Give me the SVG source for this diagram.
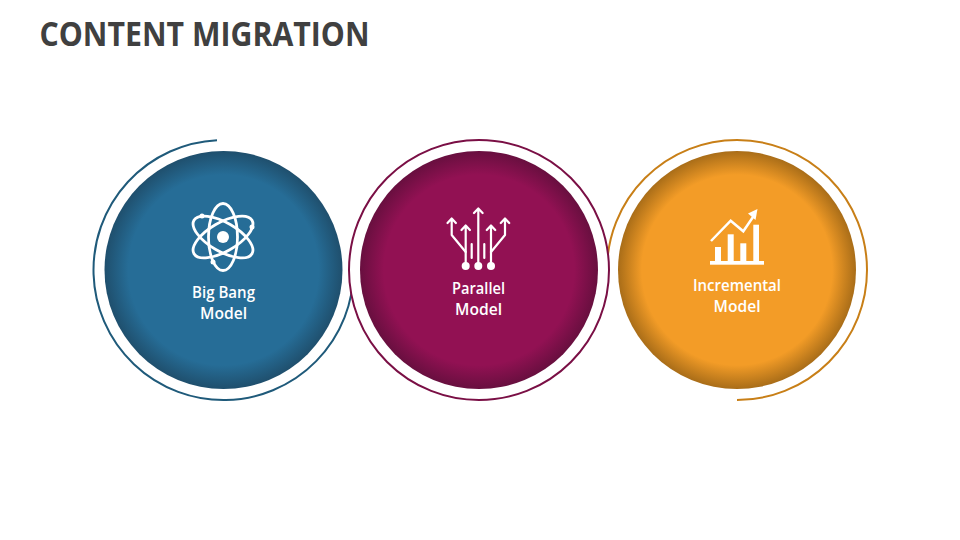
<svg xmlns="http://www.w3.org/2000/svg" width="960" height="540" viewBox="0 0 960 540">
<style>
.title{font:700 34.5px "Open Sans","Liberation Sans",sans-serif;fill:#404040}
.lab{font:600 16px "Open Sans","Liberation Sans",sans-serif;fill:#fff;text-anchor:middle}
.ring{fill:#fff;stroke-width:2}
.arc{fill:none;stroke-width:2}
.ln{fill:none;stroke:#fff;stroke-width:2.200;stroke-linecap:round;stroke-linejoin:round}
.ln3{fill:none;stroke:#fff;stroke-width:2.800}
.w{fill:#fff}
</style>
<defs>
<radialGradient id="gb" cx="0.5" cy="0.5" r="0.5"><stop offset="0.8" stop-color="#266d97"/><stop offset="1" stop-color="#1f4f6d"/></radialGradient>
<radialGradient id="gp" cx="0.5" cy="0.5" r="0.5"><stop offset="0.8" stop-color="#921153"/><stop offset="1" stop-color="#680f3f"/></radialGradient>
<radialGradient id="go" cx="0.5" cy="0.5" r="0.5"><stop offset="0.8" stop-color="#f39c27"/><stop offset="1" stop-color="#a96d18"/></radialGradient>
</defs>
<text class="title" x="39.500" y="46" textLength="330" lengthAdjust="spacingAndGlyphs">CONTENT MIGRATION</text>
<g id="connectors">
<path class="arc" stroke="#1f5a7a" d="M217 140.200A130 130 0 1 0 353.500 270"/>
<path class="arc" stroke="#c87f17" d="M737 400A130 130 0 1 0 607 270"/>
</g>
<g id="node-big-bang">
<circle cx="223.500" cy="270" r="119" fill="url(#gb)"/>
<g class="ln3"><ellipse cx="223" cy="237" rx="14.500" ry="33.500"/><ellipse cx="223" cy="237" rx="14.500" ry="33.500" transform="rotate(60 223 237)"/><ellipse cx="223" cy="237" rx="14.500" ry="33.500" transform="rotate(-60 223 237)"/></g>
<circle class="w" cx="223" cy="237" r="6"/><circle class="w" cx="202" cy="216" r="2.500"/><circle class="w" cx="252" cy="227" r="2.500"/><circle class="w" cx="213" cy="262" r="2.500"/>
<text class="lab" x="223.500" y="298" textLength="63" lengthAdjust="spacingAndGlyphs">Big Bang</text>
<text class="lab" x="223.500" y="318.500" textLength="47" lengthAdjust="spacingAndGlyphs">Model</text>
</g>
<g id="node-parallel">
<circle class="ring" cx="479" cy="270" r="130" stroke="#7a0f45"/>
<circle cx="479" cy="270" r="119" fill="url(#gp)"/>
<g class="ln">
<path d="M478.300 264V209M474 213l4.300-4.500 4.300 4.500"/>
<path d="M465.700 264V226M461.500 230l4.200-4.500 4.200 4.500"/>
<path d="M491 264V226M486.800 230l4.200-4.500 4.200 4.500"/>
<path d="M465.700 252L451.700 235V219M447.500 223l4.200-4.500 4.200 4.500"/>
<path d="M491 252L505 235V219M500.800 223l4.200-4.500 4.200 4.500"/>
<path d="M471.700 244V258M484.300 244V258"/>
</g>
<circle class="w" cx="465.700" cy="266" r="4"/><circle class="w" cx="478.300" cy="266" r="4"/><circle class="w" cx="491" cy="266" r="4"/>
<text class="lab" x="478.500" y="293.500" textLength="53" lengthAdjust="spacingAndGlyphs">Parallel</text>
<text class="lab" x="478.500" y="314.500" textLength="47" lengthAdjust="spacingAndGlyphs">Model</text>
</g>
<g id="node-incremental">
<circle cx="737" cy="270" r="119" fill="url(#go)"/>
<g class="w">
<rect x="710" y="261" width="54" height="3.700"/>
<rect x="715" y="247" width="6" height="14.500"/><rect x="727.700" y="234.300" width="6" height="27"/><rect x="740.300" y="243.300" width="6" height="18"/><rect x="753.300" y="224.700" width="5.700" height="36.700"/>
<polygon points="757.500,209 748,213.500 755.500,220"/>
</g>
<path fill="none" stroke="#fff" stroke-width="2.500" d="M711 241L730.700 220.700 743.300 231.300 753 217"/>
<text class="lab" x="737" y="290.500" textLength="88" lengthAdjust="spacingAndGlyphs">Incremental</text>
<text class="lab" x="737" y="311.500" textLength="47" lengthAdjust="spacingAndGlyphs">Model</text>
</g>
</svg>
